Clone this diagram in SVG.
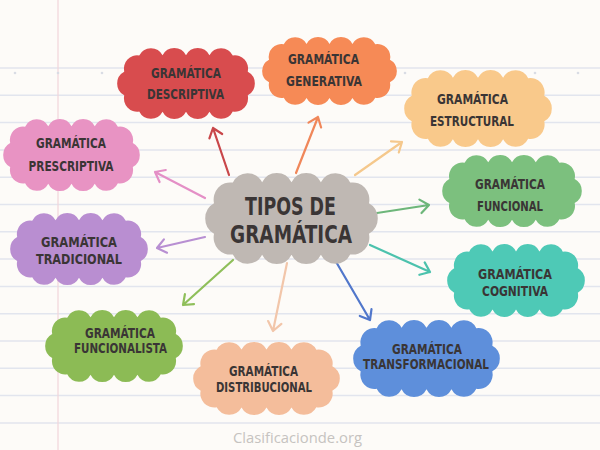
<svg xmlns="http://www.w3.org/2000/svg" xmlns:xlink="http://www.w3.org/1999/xlink" width="600" height="450" viewBox="0 0 600 450">
<style>
.rule{stroke:#e2e5ee;stroke-width:1.5}
.lbl{font-family:"DejaVu Sans","Liberation Sans",sans-serif;font-weight:bold;font-stretch:condensed;font-size:14px;fill:#3a3535;text-anchor:middle}
.big{font-size:25px}
.con{fill:none;stroke-width:2.2;stroke-linecap:round;stroke-linejoin:round}
.wm{font-family:"Open Sans","Liberation Sans",sans-serif;font-size:15px;fill:#c6c3c0;text-anchor:middle}
</style>
<defs>
<path id="cloud" d="M0 -27.5 A13 13 0 0 1 23.1 -27.5 A13 13 0 0 1 46.1 -27.2 A13 13 0 0 1 60.9 -11.5 A13 13 0 0 1 60.9 11.5 A13 13 0 0 1 46.1 27.2 A13 13 0 0 1 23.1 27.5 A13 13 0 0 1 0 27.5 A13 13 0 0 1 -23.1 27.5 A13 13 0 0 1 -46.1 27.2 A13 13 0 0 1 -60.9 11.5 A13 13 0 0 1 -60.9 -11.5 A13 13 0 0 1 -46.1 -27.2 A13 13 0 0 1 -23.1 -27.5 A13 13 0 0 1 0 -27.5 Z"/>
</defs>
<rect width="600" height="450" fill="#fdfbf8"/>
<g id="paper">
<line class="rule" x1="0" y1="68" x2="600" y2="68"/>
<line class="rule" x1="0" y1="95.3" x2="600" y2="95.3"/>
<line class="rule" x1="0" y1="122.6" x2="600" y2="122.6"/>
<line class="rule" x1="0" y1="149.9" x2="600" y2="149.9"/>
<line class="rule" x1="0" y1="177.2" x2="600" y2="177.2"/>
<line class="rule" x1="0" y1="204.5" x2="600" y2="204.5"/>
<line class="rule" x1="0" y1="231.8" x2="600" y2="231.8"/>
<line class="rule" x1="0" y1="259.1" x2="600" y2="259.1"/>
<line class="rule" x1="0" y1="286.4" x2="600" y2="286.4"/>
<line class="rule" x1="0" y1="313.7" x2="600" y2="313.7"/>
<line class="rule" x1="0" y1="341" x2="600" y2="341"/>
<line class="rule" x1="0" y1="368.3" x2="600" y2="368.3"/>
<line class="rule" x1="0" y1="395.6" x2="600" y2="395.6"/>
<line class="rule" x1="0" y1="422.9" x2="600" y2="422.9"/>
<line x1="58" y1="0" x2="58" y2="450" stroke="#f2d5da" stroke-width="1.2"/>
<g fill="#d9dce4">
<circle cx="15" cy="73" r="1.3"/><circle cx="58" cy="73" r="1.3"/><circle cx="102" cy="73" r="1.3"/>
<circle cx="405" cy="73" r="1.3"/><circle cx="535" cy="73" r="1.3"/><circle cx="578" cy="73" r="1.3"/>
</g>
</g>
<g id="connectors" class="con">
<path stroke="#c9474a" d="M229 175 L213 128 M209.4 138.4 L213 128 L222.2 134"/>
<path stroke="#f0875a" d="M296 173 L318 117 M308.5 122.6 L318 117 L321.1 127.5"/>
<path stroke="#f5c88c" d="M355 175 L402 142 M391 141.4 L402 142 L398.8 152.5"/>
<path stroke="#6db67a" d="M377 213 L429 205 M419.4 199.6 L429 205 L421.5 213"/>
<path stroke="#4cc2ad" d="M370 245 L430 272 M424.7 262.4 L430 272 L419.4 274.8"/>
<path stroke="#5177cb" d="M335 260 L370 320 M371.5 309.1 L370 320 L359.8 315.9"/>
<path stroke="#f2c6aa" d="M287 263 L273 331 M281.4 323.9 L273 331 L268.1 321.1"/>
<path stroke="#8fbf5a" d="M233 260 L183 305 M194 304.2 L183 305 L184.9 294.2"/>
<path stroke="#b88fd2" d="M205 237 L157 248 M167 252.7 L157 248 L163.9 239.4"/>
<path stroke="#e48fc6" d="M205 198 L155 172 M159.6 182 L155 172 L165.8 170"/>
</g>
<g id="center">
<use xlink:href="#cloud" transform="translate(291.5 218.5) scale(1.272 1.319)" fill="#bfb8b3"/>
<text class="lbl big" x="290.5" y="215" textLength="91" lengthAdjust="spacingAndGlyphs">TIPOS DE</text>
<text class="lbl big" x="291" y="243" textLength="122" lengthAdjust="spacingAndGlyphs">GRAMÁTICA</text>
</g>
<g id="descriptiva">
<use xlink:href="#cloud" transform="translate(186 83.5) scale(1.015 1.029)" fill="#d84c4e"/>
<text class="lbl" x="186" y="77.5" textLength="70" lengthAdjust="spacingAndGlyphs">GRAMÁTICA</text>
<text class="lbl" x="185.5" y="99" textLength="77" lengthAdjust="spacingAndGlyphs">DESCRIPTIVA</text>
</g>
<g id="generativa">
<use xlink:href="#cloud" transform="translate(329.5 71) scale(0.993 0.986)" fill="#f68a56"/>
<text class="lbl" x="323.5" y="64" textLength="71" lengthAdjust="spacingAndGlyphs">GRAMÁTICA</text>
<text class="lbl" x="324" y="86" textLength="76" lengthAdjust="spacingAndGlyphs">GENERATIVA</text>
</g>
<g id="estructural">
<use xlink:href="#cloud" transform="translate(478 108.5) scale(1.088 1.116)" fill="#f9c98b"/>
<text class="lbl" x="472.5" y="104" textLength="71" lengthAdjust="spacingAndGlyphs">GRAMÁTICA</text>
<text class="lbl" x="472" y="126" textLength="84" lengthAdjust="spacingAndGlyphs">ESTRUCTURAL</text>
</g>
<g id="prescriptiva">
<use xlink:href="#cloud" transform="translate(71.5 155) scale(1.007 1.043)" fill="#e893c3"/>
<text class="lbl" x="71" y="148" textLength="70" lengthAdjust="spacingAndGlyphs">GRAMÁTICA</text>
<text class="lbl" x="71" y="171" textLength="85" lengthAdjust="spacingAndGlyphs">PRESCRIPTIVA</text>
</g>
<g id="tradicional">
<use xlink:href="#cloud" transform="translate(79 249) scale(1.015 1.043)" fill="#b98ed1"/>
<text class="lbl" x="79" y="247" textLength="76" lengthAdjust="spacingAndGlyphs">GRAMÁTICA</text>
<text class="lbl" x="79" y="263.5" textLength="86" lengthAdjust="spacingAndGlyphs">TRADICIONAL</text>
</g>
<g id="funcional">
<use xlink:href="#cloud" transform="translate(512 191) scale(1.029 1.043)" fill="#7cc07e"/>
<text class="lbl" x="510" y="189" textLength="70" lengthAdjust="spacingAndGlyphs">GRAMÁTICA</text>
<text class="lbl" x="510" y="211" textLength="66" lengthAdjust="spacingAndGlyphs">FUNCIONAL</text>
</g>
<g id="cognitiva">
<use xlink:href="#cloud" transform="translate(516 280.5) scale(1.015 1.058)" fill="#4ec9b6"/>
<text class="lbl" x="515" y="279" textLength="74" lengthAdjust="spacingAndGlyphs">GRAMÁTICA</text>
<text class="lbl" x="515" y="296" textLength="66" lengthAdjust="spacingAndGlyphs">COGNITIVA</text>
</g>
<g id="funcionalista">
<use xlink:href="#cloud" transform="translate(114 346) scale(1.015 1.043)" fill="#8cbb55"/>
<text class="lbl" x="120" y="338" textLength="70" lengthAdjust="spacingAndGlyphs">GRAMÁTICA</text>
<text class="lbl" x="120.5" y="353" textLength="93" lengthAdjust="spacingAndGlyphs">FUNCIONALISTA</text>
</g>
<g id="distribucional">
<use xlink:href="#cloud" transform="translate(266.5 378.5) scale(1.081 1.058)" fill="#f4bd9b"/>
<text class="lbl" x="263.5" y="376" textLength="69" lengthAdjust="spacingAndGlyphs">GRAMÁTICA</text>
<text class="lbl" x="264" y="392" textLength="96" lengthAdjust="spacingAndGlyphs">DISTRIBUCIONAL</text>
</g>
<g id="transformacional">
<use xlink:href="#cloud" transform="translate(426.5 358.5) scale(1.081 1.116)" fill="#5e8fdb"/>
<text class="lbl" x="427" y="354" textLength="70" lengthAdjust="spacingAndGlyphs">GRAMÁTICA</text>
<text class="lbl" x="426" y="369" textLength="126" lengthAdjust="spacingAndGlyphs">TRANSFORMACIONAL</text>
</g>
<text class="wm" x="297.5" y="443" textLength="129" lengthAdjust="spacingAndGlyphs">Clasificacionde.org</text>
</svg>
